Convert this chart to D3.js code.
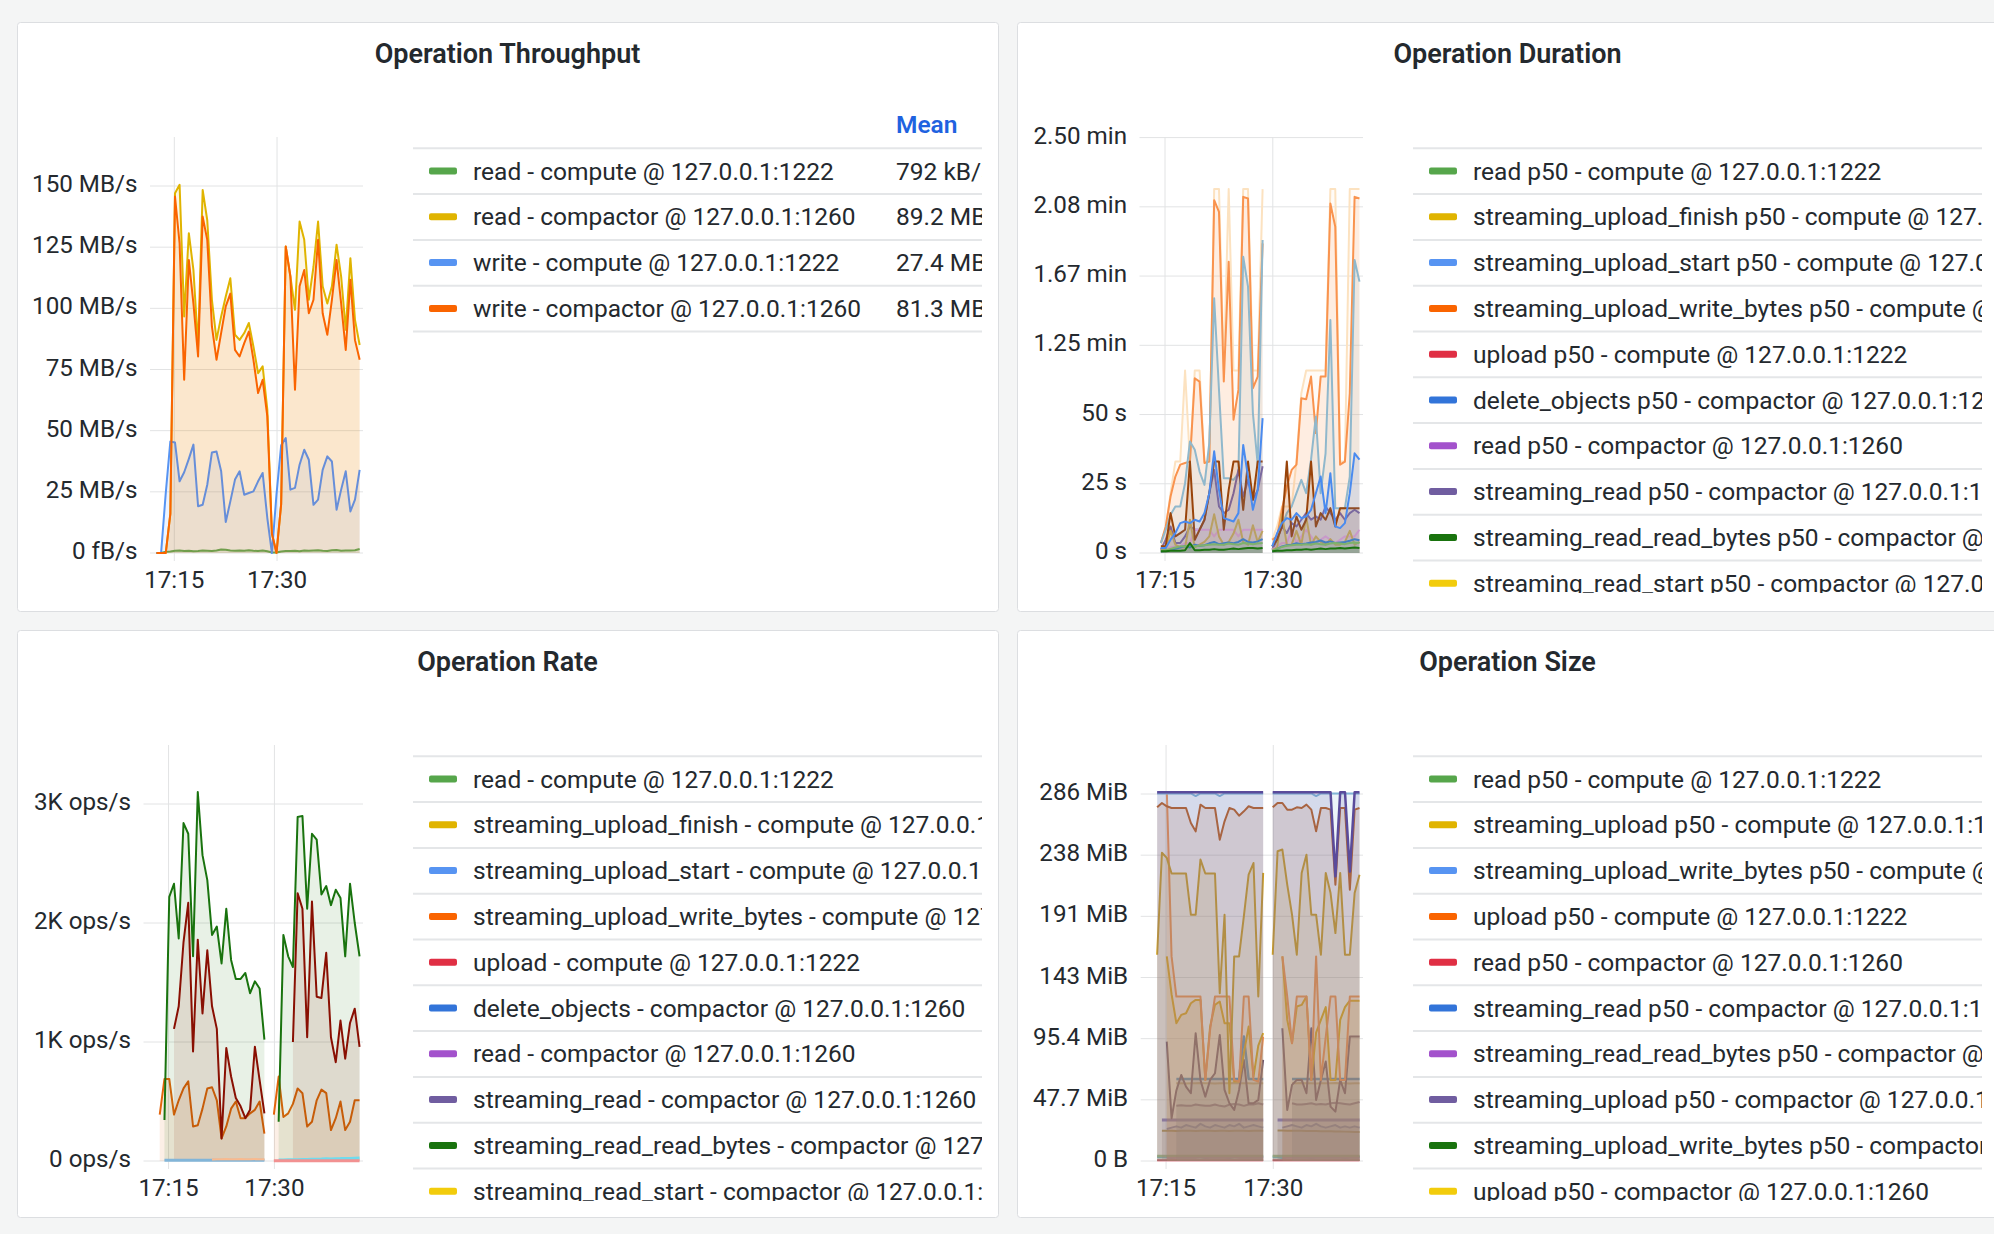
<!DOCTYPE html>
<html>
<head>
<meta charset="utf-8">
<script src="https://cdn.jsdelivr.net/npm/d3@7"></script>
<style>
  html, body { margin: 0; padding: 0; background: #f4f5f5; overflow: hidden; }
  svg { display: block; font-family: Roboto, "Noto Sans", "DejaVu Sans", sans-serif; }
</style>
</head>
<body>
<svg id="chart" width="1994" height="1234"></svg>
<script>
const N = null;

// sample times, minutes after 17:00
const minutes = [12.40, 13.07, 13.75, 14.42, 15.10, 15.77, 16.44, 17.12, 17.79, 18.47,
  19.14, 19.81, 20.49, 21.16, 21.84, 22.51, 23.18, 23.86, 24.53, 25.21,
  25.88, 26.55, 27.23, 27.90, 28.58, 29.25, 29.92, 30.60, 31.27, 31.95,
  32.62, 33.29, 33.97, 34.64, 35.32, 35.99, 36.66, 37.34, 38.01, 38.69,
  39.36, 40.03, 40.71, 41.38, 42.06];

const legendColors = ["#56A64B", "#E0B400", "#5794F2", "#FA6400", "#E02F44", "#3274D9", "#A352CC", "#705DA0", "#19730E", "#F2CC0C"];

// ---------------- Operation Throughput (MB/s)
const tpNames = ["read - compute @ 127.0.0.1:1222", "read - compactor @ 127.0.0.1:1260", "write - compute @ 127.0.0.1:1222", "write - compactor @ 127.0.0.1:1260"];
const tpMeans = ["792 kB/s", "89.2 MB/s", "27.4 MB/s", "81.3 MB/s"];
const tpTicks = [0, 25, 50, 75, 100, 125, 150];
const tpTickLabels = ["0 fB/s", "25 MB/s", "50 MB/s", "75 MB/s", "100 MB/s", "125 MB/s", "150 MB/s"];
const tpReadCompute = [0,0,0.5,0.6,0.9,1.0,0.8,0.9,0.7,0.8, 1.0,0.9,0.8,1.0,1.4,1.3,1.0,0.9,1.0,0.9, 1.1,0.9,0.8,1.0,0.7,0.2,0.2,0.6,0.8,0.8, 0.9,0.7,1.0,0.9,1.0,1.1,0.9,0.8,1.1,1.2, 0.9,1.0,1.0,1.1,1.6];
const tpReadCompactor = [0,0,0,16,147,150.5,96.7,130.7,115.7,84.4, 148.4,136,103.5,87.1,96.7,104.8,112.3,89.2,87.1,89.9, 94,84.4,73.5,76.3,58.6,8,0,20,125.3,113, 99.4,135.5,128,103.5,117,135.5,109,102,109,126, 113,91.2,120.5,95.3,85];
const tpWriteCompute = [0,0,24.5,45.6,45.2,29.3,33,38.5,44.3,19.1, 19.7,27.9,41.1,41.5,33.4,12.7,21.1,30,33.4,23.8, 24.5,25.2,29.3,32.7,14.3,0,24,44,47,25.9, 26.6,36.1,42.2,38.1,19.7,21.8,34,39.5,37.4,17.7, 25.9,33.4,17,21.8,34];
const tpWriteCompactor = [0,0,0,16,145.7,126.6,70.8,119.8,102,80.3, 137.5,128,92.6,79,90,100.8,106,83,80.3,85.8, 90.5,79,65.4,70.8,55.8,8,0,20,125.3,113, 66.7,109,115.7,98,103.5,128,98,89.2,103.5,119.8, 102,83,111.7,87,79];

// ---------------- Operation Duration (seconds)
const durNames = ["read p50 - compute @ 127.0.0.1:1222", "streaming_upload_finish p50 - compute @ 127.0.0.1:1222", "streaming_upload_start p50 - compute @ 127.0.0.1:1222", "streaming_upload_write_bytes p50 - compute @ 127.0.0.1:1222", "upload p50 - compute @ 127.0.0.1:1222", "delete_objects p50 - compactor @ 127.0.0.1:1260", "read p50 - compactor @ 127.0.0.1:1260", "streaming_read p50 - compactor @ 127.0.0.1:1260", "streaming_read_read_bytes p50 - compactor @ 127.0.0.1:1260", "streaming_read_start p50 - compactor @ 127.0.0.1:1260"];
const durTicks = [0, 25, 50, 75, 100, 125, 150];
const durTickLabels = ["0 s", "25 s", "50 s", "1.25 min", "1.67 min", "2.08 min", "2.50 min"];
const durCream = [N,N,N, 3.6,8.4,21.6,33,33,65.9,33,65.9,65.9,33,33,131.4,131.4,65.9,131.4,65.9,65.9,131.4,131.4,65.9,65.9,131.4, N, 4.8,9.6,16.8,16.8,16.8,33,57.7,65.9,65.9,65.9,65.9,65.9,131.4,131.4,33,33,131.4,131.4,131.4];
const durOrange = [N,N,N, 3.6,9.6,20.4,27.6,31.9,32.5,33,63.1,61.9,32.5,33,127.4,123.2,61.9,105.2,48.1,58.9,128.6,128,59.5,63.7,111.8, N, 4.8,6,15.6,24,30,31.9,55.9,55.5,63.7,43.3,63.7,63.7,126.2,117.8,31.9,33,57.7,128.6,128];
const durSteel = [N,N,N, 3.6,8.4,13.8,16.8,16.8,25.2,40.3,37.3,29.4,24.6,39.7,92,58.9,27,27,26.4,28.8,107,96.2,50.5,31.9,113, N, 2.4,4.8,9.6,14.4,16.8,21.6,26.4,21.6,33.7,49.3,21.6,36,84.1,16.2,16.2,16.2,27.6,105.8,98];
const durBrown = [N,N,N, 2.4,2.4,14.4,6,7.2,8.4,33,4.8,8.4,12,21.6,33,33,8.4,22.8,33,33,15.6,33,19.2,33,33, N, 2.4,4.8,9.6,33,6,13.2,8.4,12,33,9.6,14.4,12,16.2,9.6,16.2,16.2,16.2,16.2,16.2];
const durBlue = [N,N,N, 1.8,1.8,4.8,7.2,10.8,11.4,10.8,12,11.4,14.4,21.6,36.7,22.8,12.6,12,11.4,14.4,39,27.6,15.6,22.8,48.7, N, 2.4,7.2,10.8,12.6,12,14.4,12.6,13.2,15.6,21.6,27.6,14.4,28.8,9.6,9,10.8,21.6,36,33.7];
const durViolet = [N,N,N, 1.2,4.8,9.6,3.6,3.6,6,9.6,8.4,8.4,12,21.6,30,16.8,14.4,15.6,21.6,30,20.4,26.4,19.2,22.8,31.3, N, 1.2,4.8,9.6,7.2,10.8,9.6,12,14.4,12,13.2,12,16.8,14.4,12,14.4,12,14.4,15.6,14.4];
const durPink = [N,N,N, 1.2,1.2,2,2.4,2.4,3.6,3.6,8.4,8.4,8.4,8.4,6,8.4,8.4,8.4,8.4,6,8.4,8.4,8.4,8.4,8.4, N, 1.2,2.4,3.6,3.6,8.4,3.6,6,8.4,6,3.6,4.8,6,4.8,3.6,4.8,6,6,6,8.4];
const durTan = [N,N,N, 1,1.5,8,3,2,2,12,2,3,4,6,14,6,3,4,7,12,4,3,10,4,8, N, 1,2,14,3,3,8,3,13,3,6,4,3,5,3,3,4,8,3,4];
const durGreen = [N,N,N, 0.8,1,1.5,2,2.4,2.4,3,2.4,2.6,2.8,3,3.2,3,3,3.4,3.2,3,3.6,3.4,3.2,3.4,3.6, N, 0.8,1.5,2.2,2.6,2.8,3,3,3.2,3,3.4,3.2,3,3.4,3.6,3.4,3.2,3.6,3.8,3.6];
const durDarkGreen = [N,N,N, 0.6,0.6,0.8,0.8,0.8,1,3.6,1,1,1.2,1.2,1.4,1.2,1.2,1.4,1.6,1.4,1.6,1.8,1.8,1.6,1.8, N, 0.6,0.8,0.8,1,1,1.2,1.2,1.4,1.2,1.4,1.6,1.4,1.6,1.6,1.8,1.6,1.8,2,1.8];
const durSteelBlue = [N,N,N, 0.5,0.8,1.2,1.5,2,2.5,2,3,2.5,2.8,3.5,4,3.2,3.5,3.8,3.5,4,5,4,3.8,4.2,5, N, 0.5,1.5,2.4,2.8,3,3.5,3.2,3.4,3.8,4,4.5,3.8,4.2,3.6,3.8,4,4.4,5,4.6];

// ---------------- Operation Rate (ops/s)
const rateNames = ["read - compute @ 127.0.0.1:1222", "streaming_upload_finish - compute @ 127.0.0.1:1222", "streaming_upload_start - compute @ 127.0.0.1:1222", "streaming_upload_write_bytes - compute @ 127.0.0.1:1222", "upload - compute @ 127.0.0.1:1222", "delete_objects - compactor @ 127.0.0.1:1260", "read - compactor @ 127.0.0.1:1260", "streaming_read - compactor @ 127.0.0.1:1260", "streaming_read_read_bytes - compactor @ 127.0.0.1:1260", "streaming_read_start - compactor @ 127.0.0.1:1260"];
const rateTicks = [0, 1000, 2000, 3000];
const rateTickLabels = ["0 ops/s", "1K ops/s", "2K ops/s", "3K ops/s"];
const rateOrange = [N,N,390,690,690,390,510,610,670,290, 300,440,610,620,510,190,290,440,500,360, 360,400,430,500,230,N,390,710,370,400, 480,610,570,290,330,510,600,570,260,360, 500,260,330,510,510];
const rateGreen = [N,N,N,345,2220,2330,1870,2840,2750,1720, 3100,2570,2360,1900,1970,1660,2120,1690,1530,1530, 1580,1410,1510,1450,1020,N,N,330,1900,1720, 1630,2890,2900,2120,2750,2700,2240,2310,2150,2280, 2210,1720,2330,2000,1720];
const rateDarkRed = [N,N,N,N,N,1110,1300,1840,2170,920, 1860,1240,1770,1300,1110,190,950,710,530,460, 360,430,960,680,400,N,N,N,N,N, 1000,2250,2120,1040,2180,1380,1370,1750,1040,830, 1180,860,1160,1280,960];
const rateLightBlue = [N,N,N,6,6,6,7,7,6,6, 6,7,7,6,6,6,7,7,6,6, 6,7,7,6,6,N,N,N,N,N, N,N,N,N,N,N,N,N,N,N, N,N,N,N,N];
const ratePeach = [N,N,N,N,N,N,N,N,N,N, N,N,N,12,15,14,16,15,14,16, 15,14,16,15,14,N,N,N,N,N, N,N,N,N,N,N,N,N,N,N, N,N,N,N,N];
const rateCyan = [N,N,N,N,N,N,N,N,N,N, N,N,N,N,N,N,N,N,N,N, N,N,N,N,N,N,N,8,9,10, 10,11,12,12,14,15,16,18,17,19, 20,22,21,23,25];
const rateSalmon = [N,N,N,N,N,N,N,N,N,N, N,N,N,N,N,N,N,N,N,N, N,N,N,N,N,N,3,3,3,3, 3,3,3,3,3,3,3,3,3,3, 3,3,3,3,3];

// ---------------- Operation Size (MiB)
const sizeNames = ["read p50 - compute @ 127.0.0.1:1222", "streaming_upload p50 - compute @ 127.0.0.1:1222", "streaming_upload_write_bytes p50 - compute @ 127.0.0.1:1222", "upload p50 - compute @ 127.0.0.1:1222", "read p50 - compactor @ 127.0.0.1:1260", "streaming_read p50 - compactor @ 127.0.0.1:1260", "streaming_read_read_bytes p50 - compactor @ 127.0.0.1:1260", "streaming_upload p50 - compactor @ 127.0.0.1:1260", "streaming_upload_write_bytes p50 - compactor @ 127.0.0.1:1260", "upload p50 - compactor @ 127.0.0.1:1260"];
const sizeTicks = [0, 47.68, 95.37, 143.05, 190.73, 238.42, 286.1];
const sizeTickLabels = ["0 B", "47.7 MiB", "95.4 MiB", "143 MiB", "191 MiB", "238 MiB", "286 MiB"];
const sizeNavy = [N,N, 287.5,287.5,287.5,287.5,287.5,287.5,287.5,287.5,287.5,287.5, 287.5,287.5,287.5,287.5,287.5,287.5,287.5,287.5,287.5,287.5, 287.5,287.5,287.5, N, 287.5,287.5,287.5,287.5,287.5,287.5,287.5,287.5,287.5,287.5, 287.5,287.5,287.5,221.9,287.5,287.5,225.6,287.5,287.5];
const sizeLightBlue = [N,N, 286.5,286.5,286.5,286.5,286.5,286.5,286.5,286.5,284.5,286.5, 286.5,286.5,286.5,284.5,286.5,286.5,286.5,286.5,286.5,286.5, 286.5,286.5,286.5, N, 286.5,286.5,286.5,286.5,286.5,286.5,286.5,286.5,286.5,284.5, 286.5,286.5,286.5,286.5,286.5,286.5,286.5,286.5,286.5];
const sizeRust = [N,N, 275.7,279.1,276.5,275.2,275.2,275.2,275.2,263.5,257.0,277.8,275.2,275.2,275.2,250.5,264.8,275.2,273.9,269.2,272.6,276.5,275.2,275.2,275.2, N, 275.7,279.1,279.1,273.9,273.9,275.7,275.2,277.8,273.9,257.0,275.2,275.2,273.9,215.4,275.2,275.2,211.5,273.9,275.2];
const sizeGoldUpper = [N,N, 160.8,240.3,236.3,224.1,224.1,224.1,224.1,192.0,192.0,235.0,224.1,224.1,224.1,130.8,192.0,52.8,159.5,159.5,190.7,223.2,232.3,128.2,224.6, N, 160.8,241.5,242.8,215.4,192.0,160.8,224.6,238.8,192.0,192.0,160.8,224.6,208.9,177.7,224.6,160.8,160.8,208.9,223.2];
const sizeOrange = [N,N,N,N, 288.2,159.5,128.2,128.2,128.2,128.2,128.2,128.2,63.2,102.2,128.2,128.2,128.2,128.2,63.2,61.9,128.2,128.2,63.2,61.9,97, N,N,N, 159.5,128.2,91.8,128.2,128.2,128.2,63.2,159.5,63.2,97,128.2,128.2,63.2,63.2,128.2,128.2,128.2];
const sizeGoldLower = [N,N,N,N, 159.5,130,107.4,113.9,115.2,123,125.6,125.6,63.2,104.8,121.7,124.3,107.4,107.4,61.9,61.9,84,104.8,65.8,90,99.6, N,N,N, 159.5,110,91.8,120.4,121.7,128.2,63.2,100,110,120,63.2,63.2,110,120,125,125,125];
const sizePurple = [N,N,N,N, 93.1,33.3,55,67.1,58,52.8,99.6,63.2,50.2,63.2,68.4,98.3,55.4,45,39.8,55.4,78.8,45,45,47.6,78.8, N,N,N, 103.5,39.8,59.3,63.2,63.2,52.8,103.5,47.6,63.2,77.5,42.4,38.5,63.2,52.8,97,97,97];
const sizeBlue = [N,N,N,N,N,N, 64,64,64,64, 64,64,64,64,64,64,64,64,64,64, 97,64,64,64,64, N,N,N,N,N, 64,64,64,64,64,64,64,64,64,64, 64,64,64,64,64];
const sizeTan = [N,N,N,N,N,N, 60.6,60.6,60.4,60.6, 60.6,60.8,60.6,60.6,60.4,60.6,60.6,60.6,60.8,60.6, 60.6,60.6,60.4,60.6,60.6, N,N,N,N,N, 60.6,60.6,60.8,60.6,60.6,60.4,60.6,60.6,60.6,60.8, 60.6,60.6,60.4,60.6,60.6];
const sizeMauve = [N,N,N,N,N,N, 43,43.5,43,43, 44,43.5,43,43,44,43,42.5,44,44.5,44, 43,44,44,45,44, N,N,N,N,N, 45,44,44,44.5,45,44,44.5,44,45,45.5, 45,44.5,44,45,46];
const sizeLavender = [N,N,N, 32,32,32,32,32,32,32, 32,32,32,32,32,32,32,32,32,32, 32,32,32,32,32, N,N, 32,32,32, 32,32,32,32,32,32,32,32,32,32, 32,32,32,32,32];
const sizeSlate = [N,N,N,N, 25,26,27,26,28,27, 26,29,27,26,28,27,26,28,27,29, 26,27,28,27,26, N,N,N, 26,27, 28,27,26,28,27,29,27,26,27,28, 26,27,26,27,26];
const sizeGold = [N,N,N, 23.5,23.5,23.5,23.4,23.5,23.5,23.5, 23.4,23.5,23.5,23.5,23.4,23.5,23.5,23.4,23.5,23.5, 23.5,23.4,23.5,23.5,23.5, N,N, 23.7,23.7,23.6, 23.6,23.5,23.5,23.4,23.4,23.3,23.2,23.2,23.1,23.0, 23.0,22.9,22.8,22.7,22.6];
const sizePink = [N,N,N,N, 2.8,2.8,2.8,2.8,2.8,2.8, 2.8,3.4,2.8,2.8,2.8,2.8,2.8,2.8,3.4,2.8, 2.8,2.8,2.8,2.8,2.8, N,N,N, 2.8,2.8, 2.8,2.8,2.8,2.8,2.8,2.8,2.8,2.8,2.8,2.8, 2.8,2.8,2.8,2.8,2.8];
const sizeGreenLow = [N,N, 3.9,3.9,3.9,3.9,3.9,3.9,3.9,3.9, 3.9,3.9,3.9,3.9,3.9,3.9,3.9,3.9,3.9,3.9, 3.9,3.9,3.9,3.9,3.9, N, 3.9,3.9,3.9,3.9, 3.9,3.9,3.9,3.9,3.9,3.9,3.9,3.9,3.9,3.9, 3.9,3.9,3.9,3.9,3.9];
const sizeCyan = [N,N, 3.3,3.3,3.3,2.6,3.3,3.3,3.3,3.3, 3.3,3.3,2.6,3.3,3.3,3.3,3.3,2.6,3.3,3.3, 3.3,3.3,3.3,3.3,3.3, N, 3.3,3.3,2.6,3.3, 3.3,3.3,3.3,3.3,2.6,3.3,3.3,3.3,3.3,3.3, 3.3,2.6,3.3,3.3,3.3];
const sizeRed = [N,N, 0.5,0.5,0.5,0.5,0.5,0.5,0.5,0.5, 0.5,0.5,0.5,0.5,0.5,0.5,0.5,0.5,0.5,0.5, 0.5,0.5,0.5,0.5,0.5, N, 0.5,0.5,0.5,0.5, 0.5,0.5,0.5,0.5,0.5,0.5,0.5,0.5,0.5,0.5, 0.5,0.5,0.5,0.5,0.5];

// ---------------- drawing
const svg = d3.select("#chart");
const base = new Date(2024, 0, 1, 17, 0, 0).getTime();
const toDate = m => new Date(base + m * 60000);
const timeDomain = [toDate(11.45), toDate(42.55)];
const TEXT = "#24292e";
const GRID = "#e2e3e4";

function drawPanel(o) {
  const g = svg.append("g").attr("transform", `translate(${o.x},${o.y})`);
  g.append("rect").attr("x", 0.5).attr("y", 0.5).attr("width", 981).attr("height", o.h)
    .attr("rx", 3).attr("fill", "#ffffff").attr("stroke", "#dcdee1");
  g.append("text").attr("x", 490.5).attr("y", 32).attr("text-anchor", "middle")
    .attr("dominant-baseline", "central").attr("font-size", 27).attr("font-weight", 600)
    .attr("fill", TEXT).text(o.title);

  const left = o.plotLeft, right = 346, top = 115, zeroY = 531;
  const x = d3.scaleTime().domain(timeDomain).range([left, right]);
  const y = d3.scaleLinear().domain([0, o.yTopVal]).range([zeroY, o.yTopPx]);

  // grid
  const grid = g.append("g");
  const xt = x.ticks(d3.timeMinute.every(15));
  grid.selectAll("line.v").data(xt).join("line")
    .attr("x1", d => x(d)).attr("x2", d => x(d)).attr("y1", top).attr("y2", zeroY + 8)
    .attr("stroke", GRID).attr("stroke-width", 1);
  grid.selectAll("line.h").data(o.ticks).join("line")
    .attr("x1", left).attr("x2", right).attr("y1", d => y(d)).attr("y2", d => y(d))
    .attr("stroke", GRID).attr("stroke-width", 1);

  // y labels
  g.append("g").selectAll("text").data(o.ticks).join("text")
    .attr("x", left - 12.5).attr("y", d => y(d)).attr("dy", "0.25em")
    .attr("text-anchor", "end").attr("font-size", 24.2).attr("fill", TEXT)
    .text((d, i) => o.tickLabels[i]);
  // x labels
  const fmt = d3.timeFormat("%H:%M");
  g.append("g").selectAll("text").data(xt).join("text")
    .attr("x", d => x(d)).attr("y", 558).attr("dy", "0.35em")
    .attr("text-anchor", "middle").attr("font-size", 24.2).attr("fill", TEXT)
    .text(d => fmt(d));

  // series
  const cid = "clip" + o.id;
  g.append("clipPath").attr("id", cid).append("rect")
    .attr("x", left).attr("y", top).attr("width", right - left).attr("height", zeroY + 4 - top);
  const pg = g.append("g").attr("clip-path", `url(#${cid})`);
  const area = d3.area().defined(d => d[1] != null)
    .x(d => x(toDate(d[0]))).y0(y(0)).y1(d => y(d[1]));
  const line = d3.line().defined(d => d[1] != null)
    .x(d => x(toDate(d[0]))).y(d => y(d[1]));
  o.series.forEach(s => {
    if (s.values.length !== minutes.length) console.error("length", s.name, s.values.length);
    const pts = minutes.map((m, i) => [m, s.values[i]]);
    pg.append("path").attr("d", area(pts)).attr("fill", s.color).attr("fill-opacity", o.fill);
    pg.append("path").attr("d", line(pts)).attr("fill", "none").attr("stroke", s.color)
      .attr("stroke-width", s.w || 2).attr("stroke-linejoin", "round");
  });

  // legend
  const lid = "lclip" + o.id;
  g.append("clipPath").attr("id", lid).append("rect")
    .attr("x", 396).attr("y", 0).attr("width", 569).attr("height", 571);
  const lg = g.append("g").attr("clip-path", `url(#${lid})`);
  if (o.header) {
    lg.append("text").attr("x", 879).attr("y", 102.6).attr("dy", "0.35em")
      .attr("font-size", 24.5).attr("font-weight", 600).attr("fill", "#1f62e0").text(o.header);
  }
  const pitch = 45.8;
  lg.append("line").attr("x1", 396).attr("x2", 965).attr("y1", 126.3).attr("y2", 126.3)
    .attr("stroke", "#e4e6e8").attr("stroke-width", 2);
  o.legend.forEach((name, i) => {
    const cy = 149 + i * pitch;
    lg.append("rect").attr("x", 412).attr("y", cy - 3.5).attr("width", 28).attr("height", 7)
      .attr("rx", 2).attr("fill", legendColors[i]);
    lg.append("text").attr("x", 456).attr("y", cy).attr("dy", "0.35em")
      .attr("font-size", 24.5).attr("fill", TEXT).text(name);
    if (o.values) {
      lg.append("text").attr("x", 879).attr("y", cy).attr("dy", "0.35em")
        .attr("font-size", 24.5).attr("fill", TEXT).text(o.values[i]);
    }
    lg.append("line").attr("x1", 396).attr("x2", 965)
      .attr("y1", 126.3 + (i + 1) * pitch).attr("y2", 126.3 + (i + 1) * pitch)
      .attr("stroke", "#e4e6e8").attr("stroke-width", 2);
  });
}

drawPanel({
  id: 1, x: 17, y: 22, h: 589, title: "Operation Throughput", plotLeft: 133, fill: 0.1,
  yTopVal: 150, yTopPx: 164, ticks: tpTicks, tickLabels: tpTickLabels,
  header: "Mean", legend: tpNames, values: tpMeans,
  series: [
    { name: tpNames[0], color: "#56A64B", values: tpReadCompute },
    { name: tpNames[1], color: "#E0B400", values: tpReadCompactor },
    { name: tpNames[2], color: "#5794F2", values: tpWriteCompute },
    { name: tpNames[3], color: "#FA6400", values: tpWriteCompactor }
  ]
});

drawPanel({
  id: 2, x: 1017, y: 22, h: 589, title: "Operation Duration", plotLeft: 122.5, fill: 0.13,
  yTopVal: 150, yTopPx: 115.6, ticks: durTicks, tickLabels: durTickLabels,
  legend: durNames,
  series: [
    { name: "upload p99 - compute", color: "#FCE2C0", values: durCream },
    { name: "streaming_upload_write_bytes p99 - compute", color: "#F9934E", values: durOrange },
    { name: "upload p90 - compute", color: "#90B8CC", values: durSteel },
    { name: durNames[7], color: "#7E6AA8", values: durViolet },
    { name: "streaming_read p90 - compactor", color: "#E5A8E2", values: durPink },
    { name: "streaming_upload_finish p90 - compute", color: "#D2B25A", values: durTan },
    { name: "streaming_upload_write_bytes p90 - compute", color: "#99440A", values: durBrown },
    { name: "delete_objects p90 - compactor", color: "#447EBC", values: durSteelBlue },
    { name: durNames[2], color: "#4A8BEF", values: durBlue },
    { name: durNames[0], color: "#7EB26D", values: durGreen },
    { name: durNames[8], color: "#19730E", values: durDarkGreen }
  ]
});

drawPanel({
  id: 3, x: 17, y: 630, h: 587, title: "Operation Rate", plotLeft: 126.5, fill: 0.1,
  yTopVal: 3000, yTopPx: 174, ticks: rateTicks, tickLabels: rateTickLabels,
  legend: rateNames,
  series: [
    { name: rateNames[3], color: "#E3640B", values: rateOrange },
    { name: rateNames[8], color: "#19730E", values: rateGreen },
    { name: "streaming_upload_write_bytes - compactor @ 127.0.0.1:1260", color: "#890F02", values: rateDarkRed },
    { name: rateNames[2], color: "#82B5D8", values: rateLightBlue, w: 3 },
    { name: "streaming_upload_finish - compactor @ 127.0.0.1:1260", color: "#F9BA8F", values: ratePeach },
    { name: "upload - compactor @ 127.0.0.1:1260", color: "#70DBED", values: rateCyan, w: 3 },
    { name: "streaming_upload_start - compactor @ 127.0.0.1:1260", color: "#F29191", values: rateSalmon, w: 3 }
  ]
});

drawPanel({
  id: 4, x: 1017, y: 630, h: 587, title: "Operation Size", plotLeft: 123.7, fill: 0.15,
  yTopVal: 286.1, yTopPx: 164, ticks: sizeTicks, tickLabels: sizeTickLabels,
  legend: sizeNames,
  series: [
    { name: sizeNames[4], color: "#E02F44", values: sizeRed },
    { name: sizeNames[6], color: "#65C5DB", values: sizeCyan, w: 2.5 },
    { name: "read p90 - compactor", color: "#D683CE", values: sizePink, w: 2.5 },
    { name: sizeNames[0], color: "#9AC48A", values: sizeGreenLow, w: 2.5 },
    { name: "streaming_upload p90 - compactor", color: "#B8953B", values: sizeGold },
    { name: "streaming_read p90 - compactor", color: "#7F86BD", values: sizeSlate },
    { name: sizeNames[7], color: "#8878C4", values: sizeLavender, w: 3 },
    { name: "streaming_upload_write_bytes p90 - compactor", color: "#8E7090", values: sizeMauve },
    { name: "upload p90 - compactor", color: "#D4B483", values: sizeTan },
    { name: sizeNames[5], color: "#4B92D2", values: sizeBlue, w: 2.5 },
    { name: "streaming_read_read_bytes p90 - compactor", color: "#6D5577", values: sizePurple },
    { name: "streaming_upload p90 - compute", color: "#E5AC0E", values: sizeGoldLower },
    { name: sizeNames[3], color: "#F9934E", values: sizeOrange },
    { name: sizeNames[1], color: "#D1A21E", values: sizeGoldUpper },
    { name: "upload p99 - compute", color: "#C15C17", values: sizeRust },
    { name: sizeNames[2], color: "#82B5D8", values: sizeLightBlue },
    { name: "streaming_upload p99 - compute", color: "#5A4B9B", values: sizeNavy, w: 2.5 }
  ]
});
</script>
</body>
</html>
